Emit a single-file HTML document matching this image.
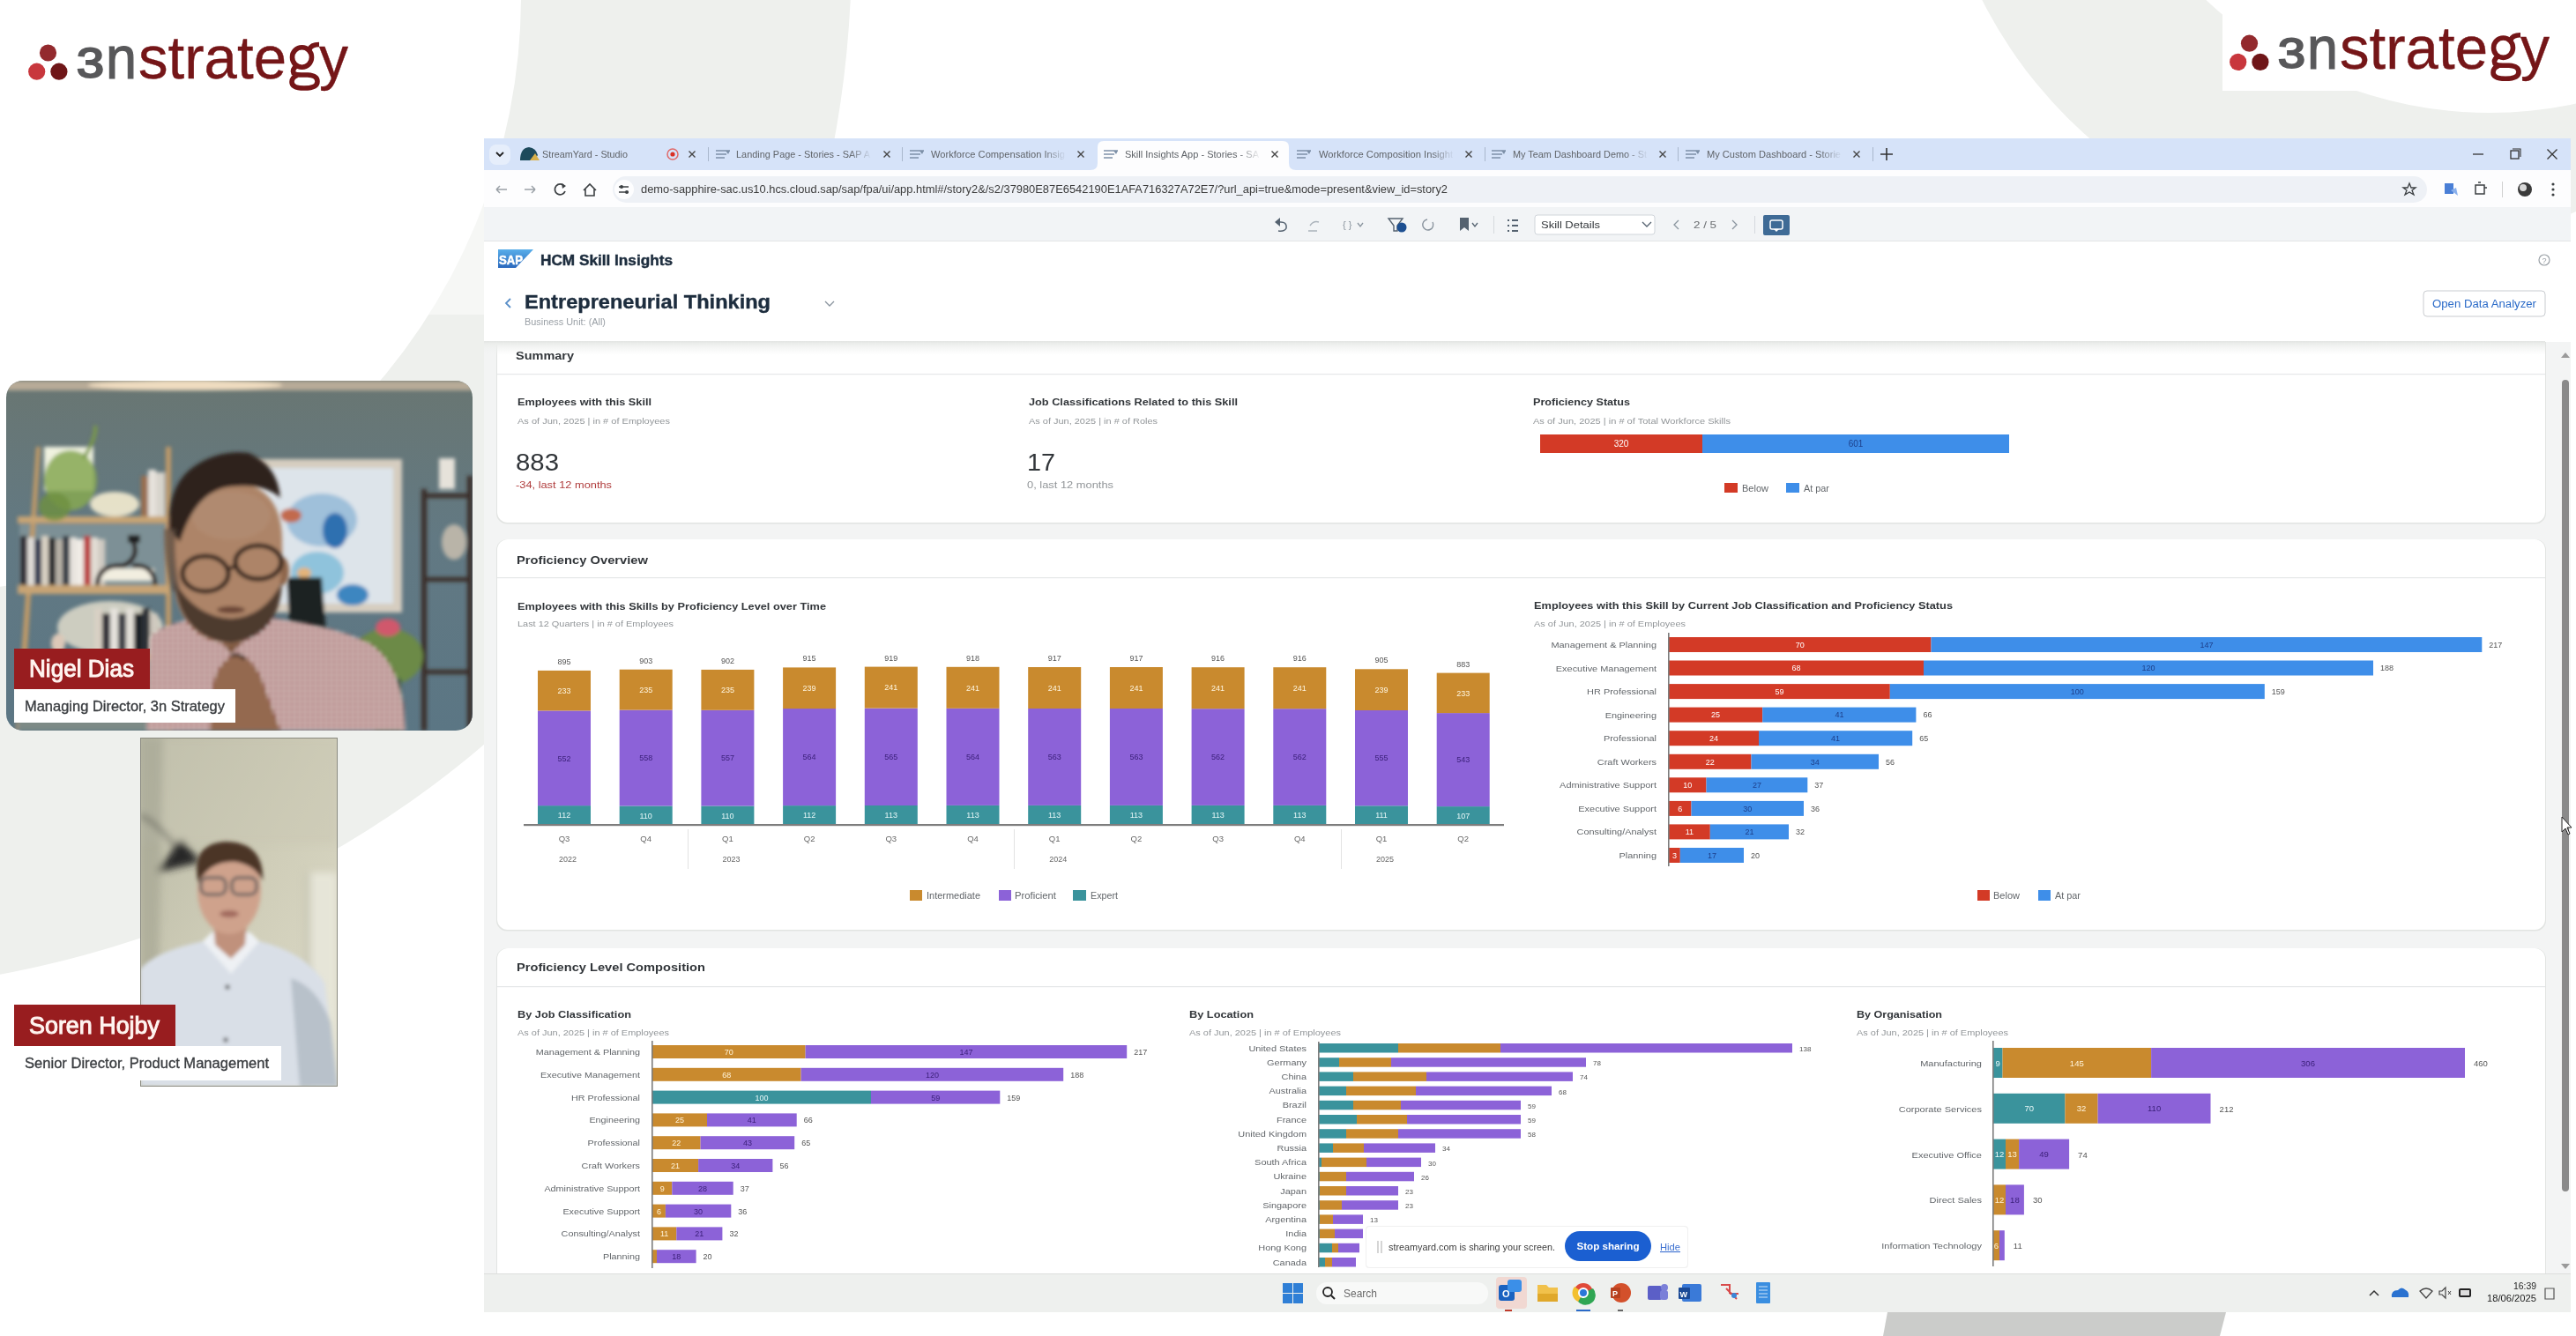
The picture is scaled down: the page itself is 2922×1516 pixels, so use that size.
<!DOCTYPE html>
<html><head><meta charset="utf-8"><title>3n Strategy - HCM Skill Insights</title>
<style>
html,body{margin:0;padding:0;background:#fff;overflow:hidden;}
body{width:2922px;height:1516px;}
svg{display:block;font-family:"Liberation Sans",sans-serif;filter:blur(0.6px);}
</style></head><body>
<svg width="2922" height="1516" viewBox="0 0 2922 1516">
<rect width="2922" height="1516" fill="#ffffff"/>
<path fill="#eef0ed" fill-rule="evenodd" d="M 966 -56 A 1181 1181 0 1 0 -1396 -56 A 1181 1181 0 1 0 966 -56 Z M 591 -4 A 675 675 0 1 0 -759 -4 A 675 675 0 1 0 591 -4 Z"/>
<rect x="0" y="0" width="549" height="357" fill="#ffffff" opacity="0.45"/>
<path fill="#eef0ed" fill-rule="evenodd" d="M 3229 -233 A 518 518 0 1 0 2193 -233 A 518 518 0 1 0 3229 -233 Z M 3292 -340 A 468 468 0 1 0 2356 -340 A 468 468 0 1 0 3292 -340 Z"/>
<rect x="2521" y="16" width="384" height="87" fill="#ffffff"/>
<path d="M2141 1489 L2525 1489 L2518 1516 L2136 1516 Z" fill="#cbccca"/>
<circle cx="54.5" cy="60" r="9.6" fill="#932a2e"/>
<circle cx="41.7" cy="81.2" r="9.6" fill="#c8373d"/>
<circle cx="66.9" cy="81.2" r="9.6" fill="#6f1618"/>
<text x="87.0" y="87.7" font-size="49" fill="#58585a" text-anchor="start" textLength="31.0" lengthAdjust="spacingAndGlyphs" stroke="#58585a" stroke-width="2.2">3</text>
<text x="120.0" y="88.7" font-size="68" fill="#58585a" text-anchor="start" textLength="35.0" lengthAdjust="spacingAndGlyphs" stroke="#58585a" stroke-width="1.2">n</text>
<text x="157.0" y="88.7" font-size="68" fill="#751618" text-anchor="start" textLength="168.0" lengthAdjust="spacingAndGlyphs" stroke="#751618" stroke-width="0.4">strate</text>
<text x="362.0" y="88.7" font-size="68" fill="#751618" text-anchor="start" textLength="33.0" lengthAdjust="spacingAndGlyphs" stroke="#751618" stroke-width="0.4">y</text>
<g fill="none" stroke="#751618" stroke-width="5.6" transform="translate(0,0)"><ellipse cx="342.5" cy="65" rx="11" ry="11.2"/><path d="M351 56 Q353 50.5 362 50.5"/><path d="M336 75 Q331 79 333 83 Q335 85 342 85 L349 85 Q360 85.5 360 92.5 Q360 100 345 100 Q331 100 331 93 Q331 88 337 85.5"/></g>
<circle cx="2551.5" cy="49.2" r="9.6" fill="#932a2e"/>
<circle cx="2538.7" cy="70.4" r="9.6" fill="#c8373d"/>
<circle cx="2563.9" cy="70.4" r="9.6" fill="#6f1618"/>
<text x="2584.0" y="76.9" font-size="49" fill="#58585a" text-anchor="start" textLength="31.0" lengthAdjust="spacingAndGlyphs" stroke="#58585a" stroke-width="2.2">3</text>
<text x="2617.0" y="77.9" font-size="68" fill="#58585a" text-anchor="start" textLength="35.0" lengthAdjust="spacingAndGlyphs" stroke="#58585a" stroke-width="1.2">n</text>
<text x="2654.0" y="77.9" font-size="68" fill="#751618" text-anchor="start" textLength="168.0" lengthAdjust="spacingAndGlyphs" stroke="#751618" stroke-width="0.4">strate</text>
<text x="2859.0" y="77.9" font-size="68" fill="#751618" text-anchor="start" textLength="33.0" lengthAdjust="spacingAndGlyphs" stroke="#751618" stroke-width="0.4">y</text>
<g fill="none" stroke="#751618" stroke-width="5.6" transform="translate(2497,-10.8)"><ellipse cx="342.5" cy="65" rx="11" ry="11.2"/><path d="M351 56 Q353 50.5 362 50.5"/><path d="M336 75 Q331 79 333 83 Q335 85 342 85 L349 85 Q360 85.5 360 92.5 Q360 100 345 100 Q331 100 331 93 Q331 88 337 85.5"/></g>
<defs>
<filter id="bl2" x="-20%" y="-20%" width="140%" height="140%"><feGaussianBlur stdDeviation="2"/></filter>
<filter id="bl4" x="-30%" y="-30%" width="160%" height="160%"><feGaussianBlur stdDeviation="4"/></filter>
<filter id="bl8" x="-30%" y="-30%" width="160%" height="160%"><feGaussianBlur stdDeviation="8"/></filter>
<clipPath id="clipN"><rect x="7" y="432" width="529" height="397" rx="19"/></clipPath>
<clipPath id="clipS"><rect x="159" y="837" width="224" height="396"/></clipPath>
<pattern id="check" width="6" height="6" patternUnits="userSpaceOnUse"><rect width="6" height="6" fill="#eee6e2"/><rect width="2" height="6" fill="#8e3a3e" opacity="0.85"/><rect width="6" height="2" fill="#8e3a3e" opacity="0.7"/></pattern>
<linearGradient id="wallN" x1="0" y1="0" x2="0" y2="1"><stop offset="0" stop-color="#697672"/><stop offset="0.45" stop-color="#627983"/><stop offset="1" stop-color="#5b7684"/></linearGradient>
<linearGradient id="wallS" x1="0" y1="0" x2="1" y2="1"><stop offset="0" stop-color="#b8b8a4"/><stop offset="0.5" stop-color="#cfcdb8"/><stop offset="1" stop-color="#dedcc9"/></linearGradient>
</defs>
<g clip-path="url(#clipN)">
<rect x="7.0" y="432.0" width="529.0" height="397.0" rx="0" fill="url(#wallN)" />
<g filter="url(#bl2)">
<rect x="7" y="432" width="529" height="11" fill="#b8ab98"/>
<ellipse cx="210" cy="437" rx="110" ry="6" fill="#efdcc0"/>
<rect x="22" y="595" width="168" height="70" fill="#8fa0a4" opacity="0.6"/>
<ellipse cx="125" cy="712" rx="60" ry="30" fill="#e8e2d0" opacity="0.8"/>
<ellipse cx="130" cy="572" rx="28" ry="14" fill="#f4ecd0" opacity="0.9"/>
<path d="M41 507 L46 507 L25 829 L18 829 Z" fill="#c09a68"/>
<rect x="188.0" y="507.0" width="6.0" height="322.0" rx="0" fill="#c09a68" />
<rect x="20.0" y="586.0" width="170.0" height="8.0" rx="0" fill="#c8a474" />
<rect x="20.0" y="664.0" width="172.0" height="10.0" rx="0" fill="#c8a474" />
<rect x="20.0" y="742.0" width="172.0" height="7.0" rx="0" fill="#c0a070" />
<rect x="50.0" y="507.0" width="56.0" height="50.0" rx="0" fill="#f0f2e0" />
<ellipse cx="80" cy="545" rx="30" ry="34" fill="#86a852" opacity="0.85"/>
<ellipse cx="62" cy="575" rx="18" ry="16" fill="#6e9040" opacity="0.8"/>
<path d="M95 520 Q110 495 108 483" stroke="#7a9a48" stroke-width="4" fill="none"/>
<rect x="160.0" y="540.0" width="8.0" height="46.0" rx="0" fill="#9a6e50" />
<rect x="168.0" y="533.0" width="9.0" height="53.0" rx="0" fill="#e6e2dc" />
<rect x="177.0" y="536.0" width="10.0" height="50.0" rx="0" fill="#d8d4cc" />
<rect x="23.0" y="608.0" width="8.0" height="56.0" rx="0" fill="#2a2c33" />
<rect x="31.0" y="610.0" width="8.0" height="54.0" rx="0" fill="#e0ddd8" />
<rect x="39.0" y="612.0" width="8.0" height="52.0" rx="0" fill="#2b3550" />
<rect x="47.0" y="608.0" width="8.0" height="56.0" rx="0" fill="#d9d2c4" />
<rect x="55.0" y="610.0" width="8.0" height="54.0" rx="0" fill="#1f2128" />
<rect x="63.0" y="612.0" width="8.0" height="52.0" rx="0" fill="#b8b2a8" />
<rect x="71.0" y="608.0" width="8.0" height="56.0" rx="0" fill="#2e3440" />
<rect x="79.0" y="610.0" width="8.0" height="54.0" rx="0" fill="#e8e4de" />
<rect x="87.0" y="612.0" width="8.0" height="52.0" rx="0" fill="#f0ece6" />
<rect x="95.0" y="608.0" width="8.0" height="56.0" rx="0" fill="#b93a3a" />
<rect x="103.0" y="610.0" width="8.0" height="54.0" rx="0" fill="#e2ddd4" />
<rect x="111.0" y="612.0" width="8.0" height="52.0" rx="0" fill="#d0cbc2" />
<rect x="115.0" y="645.0" width="60.0" height="14.0" rx="0" fill="#f2eee0" />
<path d="M110 664 Q112 640 140 642 Q160 632 150 612 M150 642 Q175 640 176 664" stroke="#2a2422" stroke-width="5" fill="none"/>
<rect x="145" y="607" width="14" height="9" fill="#1e1e1e"/>
<rect x="107.0" y="690.0" width="9.0" height="52.0" rx="0" fill="#d8d0c4" />
<rect x="116.0" y="696.0" width="9.0" height="46.0" rx="0" fill="#2a2c33" />
<rect x="125.0" y="690.0" width="9.0" height="52.0" rx="0" fill="#e6e3dd" />
<rect x="134.0" y="696.0" width="9.0" height="46.0" rx="0" fill="#3a3d44" />
<rect x="143.0" y="690.0" width="9.0" height="52.0" rx="0" fill="#e3e0d8" />
<rect x="152.0" y="696.0" width="9.0" height="46.0" rx="0" fill="#1e2026" />
<rect x="161.0" y="690.0" width="9.0" height="52.0" rx="0" fill="#2e3138" />
<rect x="170.0" y="696.0" width="9.0" height="46.0" rx="0" fill="#cfc9be" />
<ellipse cx="66" cy="730" rx="8" ry="11" fill="#dcc8b8"/>
<rect x="20.0" y="749.0" width="172.0" height="80.0" rx="0" fill="#7d8a86" />
<rect x="270.0" y="521.0" width="186.0" height="174.0" rx="0" fill="#d6cdc0" />
<rect x="280.0" y="531.0" width="166.0" height="154.0" rx="0" fill="#dde4ea" />
<ellipse cx="365" cy="590" rx="40" ry="30" fill="#9fc0da"/>
<ellipse cx="380" cy="602" rx="14" ry="20" fill="#2f6fb0"/>
<ellipse cx="330" cy="585" rx="12" ry="8" fill="#c26a4e"/>
<ellipse cx="360" cy="650" rx="30" ry="24" fill="#8fc3dc"/>
<ellipse cx="400" cy="675" rx="18" ry="12" fill="#3d86c0"/>
<ellipse cx="345" cy="650" rx="8" ry="6" fill="#e3b47a"/>
<rect x="478.0" y="555.0" width="6.0" height="274.0" rx="0" fill="#3a2e2a" />
<rect x="530.0" y="540.0" width="6.0" height="289.0" rx="0" fill="#3a2e2a" />
<rect x="478.0" y="560.0" width="58.0" height="5.0" rx="0" fill="#3a2e2a" />
<rect x="478.0" y="655.0" width="58.0" height="5.0" rx="0" fill="#3a2e2a" />
<rect x="478.0" y="760.0" width="58.0" height="5.0" rx="0" fill="#3a2e2a" />
<ellipse cx="515" cy="615" rx="14" ry="20" fill="#b9b4a8"/>
<rect x="498.0" y="520.0" width="18.0" height="35.0" rx="0" fill="#e6e2da" />
<ellipse cx="440" cy="745" rx="40" ry="32" fill="#6c8a46"/>
<ellipse cx="440" cy="712" rx="14" ry="10" fill="#d0586c"/>
<rect x="425.0" y="770.0" width="30.0" height="59.0" rx="0" fill="#3b5a4a" />
<path d="M325 655 L365 655 L370 720 L330 740 Z" fill="#1f2022"/>
</g>
<g filter="url(#bl2)">
<path d="M166 829 L170 725 Q178 708 232 700 L262 728 L292 700 Q370 706 420 730 Q450 750 458 800 L460 829 Z" fill="url(#check)"/>
<path d="M166 829 L170 725 Q178 708 232 700 L262 728 L292 700 Q370 706 420 730 Q450 750 458 800 L460 829 Z" fill="#b27676" opacity="0.15"/>
<path d="M232 700 L262 745 L292 700 L285 690 L240 690 Z" fill="#e8dcd6" opacity="0.6"/>
<path d="M232 690 L296 690 L292 712 L262 742 L236 712 Z" fill="#80583f"/>
<ellipse cx="320" cy="648" rx="8" ry="16" fill="#8e664c"/>
<path d="M190 600 Q190 548 252 545 Q318 545 320 610 Q322 680 300 712 Q275 735 250 730 Q212 722 200 680 Z" fill="#ad8468"/>
<ellipse cx="262" cy="585" rx="45" ry="28" fill="#b08a70"/>
<path d="M198 660 Q205 725 262 730 Q318 722 320 660 Q300 700 262 702 Q222 700 198 660 Z" fill="#4e3a2e"/>
<ellipse cx="262" cy="692" rx="16" ry="4" fill="#6a4434"/>
<path d="M192 600 Q190 548 222 528 Q250 510 282 514 Q315 528 318 565 Q300 548 262 552 Q222 556 204 615 Z" fill="#2e241d"/>
<path d="M186 600 Q186 640 196 672 L204 668 Q196 630 200 600 Z" fill="#5a4a40" opacity="0.7"/>
<ellipse cx="233" cy="651" rx="26" ry="20" fill="none" stroke="#2a1d16" stroke-width="5"/>
<ellipse cx="293" cy="638" rx="26" ry="19" fill="none" stroke="#2a1d16" stroke-width="5"/>
<path d="M258 646 L268 642" stroke="#2a1d16" stroke-width="4"/>
<path d="M238 829 L242 775 Q250 745 272 742 Q292 752 300 780 L318 829 Z" fill="#94694f"/>
<path d="M262 745 Q268 740 278 748" stroke="#4a3325" stroke-width="4" fill="none"/>
</g>
</g>
<rect x="16.0" y="736.0" width="154.0" height="46.0" rx="0" fill="#981d1f" />
<text x="33.0" y="768.0" font-size="27" fill="#fff4f0" text-anchor="start" textLength="119.0" lengthAdjust="spacingAndGlyphs" stroke="#fff4f0" stroke-width="1">Nigel Dias</text>
<rect x="16.0" y="782.0" width="251.0" height="38.0" rx="0" fill="#ffffff" />
<text x="28.0" y="807.0" font-size="17" fill="#3a3d40" text-anchor="start" textLength="227.0" lengthAdjust="spacingAndGlyphs" stroke="#3a3d40" stroke-width="0.35">Managing Director, 3n Strategy</text>
<g clip-path="url(#clipS)">
<rect x="159.0" y="837.0" width="224.0" height="396.0" rx="0" fill="url(#wallS)" />
<g filter="url(#bl4)">
<rect x="159" y="837" width="224" height="120" fill="#c9c8b4" opacity="0.5"/>
<path d="M159 837 L185 837 L178 1233 L159 1233 Z" fill="#a2a290" opacity="0.6"/>
<rect x="352.0" y="990.0" width="31.0" height="243.0" rx="0" fill="#e6e5d8" />
<rect x="346.0" y="990.0" width="6.0" height="243.0" rx="0" fill="#c6c5b2" />
<path d="M159 925 Q180 935 200 962" stroke="#2e2e2e" stroke-width="3" fill="none"/>
<path d="M178 990 L205 952 L228 978 Z" fill="#262626"/>
</g>
<g filter="url(#bl2)">
<path d="M159 1233 L159 1100 Q175 1080 230 1068 L262 1082 L294 1068 Q345 1080 368 1115 L383 1233 Z" fill="#d9dfe7"/>
<path d="M330 1110 Q360 1120 375 1160 L383 1233 L340 1233 Z" fill="#aab3bd" opacity="0.7"/>
<path d="M230 1068 L262 1105 L294 1068 L284 1058 L240 1058 Z" fill="#eef1f4"/>
<circle cx="258" cy="1120" r="2.5" fill="#333"/><circle cx="256" cy="1180" r="2.5" fill="#333"/>
<path d="M242 1045 L280 1045 L278 1072 L262 1088 L244 1072 Z" fill="#c0917c"/>
<ellipse cx="260" cy="1010" rx="36" ry="50" fill="#cfa28c"/>
<path d="M225 1002 Q215 958 255 955 Q300 955 298 1000 Q290 982 268 978 Q238 976 225 1002 Z" fill="#4c3626"/>
<rect x="228" y="996" width="28" height="19" rx="7" fill="none" stroke="#5a5a5a" stroke-width="3"/>
<rect x="263" y="996" width="28" height="19" rx="7" fill="none" stroke="#5a5a5a" stroke-width="3"/>
<ellipse cx="260" cy="1037" rx="11" ry="4" fill="#a26a5e"/>
</g>
</g>
<rect x="159.5" y="837.5" width="223" height="395" fill="none" stroke="#8a8a80" stroke-width="1"/>
<rect x="16.0" y="1140.0" width="183.0" height="47.0" rx="0" fill="#981d1f" />
<text x="33.0" y="1173.0" font-size="27" fill="#fff4f0" text-anchor="start" textLength="148.0" lengthAdjust="spacingAndGlyphs" stroke="#fff4f0" stroke-width="1">Soren Hojby</text>
<rect x="16.0" y="1187.0" width="303.0" height="39.0" rx="0" fill="#ffffff" />
<text x="28.0" y="1212.0" font-size="17" fill="#3a3d40" text-anchor="start" textLength="277.0" lengthAdjust="spacingAndGlyphs" stroke="#3a3d40" stroke-width="0.35">Senior Director, Product Management</text>
<rect x="549.0" y="157.0" width="2367.0" height="1332.0" rx="0" fill="#f3f4f4" />
<rect x="549.0" y="157.0" width="2367.0" height="36.0" rx="0" fill="#d6e3f9" />
<defs><linearGradient id="fadeT" x1="0" x2="1"><stop offset="0" stop-color="#d6e3f9" stop-opacity="0"/><stop offset="1" stop-color="#d6e3f9"/></linearGradient><linearGradient id="fadeA" x1="0" x2="1"><stop offset="0" stop-color="#fdfdfe" stop-opacity="0"/><stop offset="1" stop-color="#fdfdfe"/></linearGradient></defs>
<path d="M1237 193 Q1245 193 1245 185 L1245 167 Q1245 160 1252 160 L1455 160 Q1462 160 1462 167 L1462 185 Q1462 193 1470 193 Z" fill="#fdfdfe"/>
<rect x="555.0" y="164.0" width="24.0" height="23.0" rx="8" fill="#e6eefb" />
<path d="M563 173 L567 177 L571 173" stroke="#1f1f1f" stroke-width="1.8" fill="none"/>
<path d="M590 182 Q590 168 600 167 Q608 168 610 176 L606 182 Z" fill="#1d4a5c"/>
<path d="M601 182 L607 174 L612 182 Z" fill="#d8b04a"/>
<text x="615.0" y="179.0" font-size="11" fill="#5f6368" text-anchor="start" textLength="97.0" lengthAdjust="spacingAndGlyphs" >StreamYard - Studio</text>
<circle cx="763" cy="175" r="6" fill="none" stroke="#e06a6a" stroke-width="1.5"/><circle cx="763" cy="175" r="2.6" fill="#d93025"/>
<path d="M781.5 171.5 L788.5 178.5 M788.5 171.5 L781.5 178.5" stroke="#444" stroke-width="1.4"/>
<rect x="803" y="167" width="1" height="16" fill="#a9b7cc"/>
<path d="M812 171 L828 171 M812 175 L824 175 M812 179 L822 179" stroke="#7d90a8" stroke-width="1.4"/>
<path d="M823 171 L828 171 L826 175 Z" fill="#7d90a8"/>
<text x="835.0" y="179.0" font-size="11" fill="#5f6368" text-anchor="start" textLength="152.0" lengthAdjust="spacingAndGlyphs" >Landing Page - Stories - SAP A</text>
<rect x="963" y="168" width="26" height="16" fill="url(#fadeT)"/>
<path d="M1002.5 171.5 L1009.5 178.5 M1009.5 171.5 L1002.5 178.5" stroke="#444" stroke-width="1.4"/>
<rect x="1023" y="167" width="1" height="16" fill="#a9b7cc"/>
<path d="M1032 171 L1048 171 M1032 175 L1044 175 M1032 179 L1042 179" stroke="#7d90a8" stroke-width="1.4"/>
<path d="M1043 171 L1048 171 L1046 175 Z" fill="#7d90a8"/>
<text x="1056.0" y="179.0" font-size="11" fill="#5f6368" text-anchor="start" textLength="152.0" lengthAdjust="spacingAndGlyphs" >Workforce Compensation Insig</text>
<rect x="1184" y="168" width="26" height="16" fill="url(#fadeT)"/>
<path d="M1222.5 171.5 L1229.5 178.5 M1229.5 171.5 L1222.5 178.5" stroke="#444" stroke-width="1.4"/>
<path d="M1252 171 L1268 171 M1252 175 L1264 175 M1252 179 L1262 179" stroke="#7d90a8" stroke-width="1.4"/>
<path d="M1263 171 L1268 171 L1266 175 Z" fill="#7d90a8"/>
<text x="1276.0" y="179.0" font-size="11" fill="#5f6368" text-anchor="start" textLength="152.0" lengthAdjust="spacingAndGlyphs" >Skill Insights App - Stories - SA</text>
<rect x="1404" y="168" width="26" height="16" fill="url(#fadeA)"/>
<path d="M1442.5 171.5 L1449.5 178.5 M1449.5 171.5 L1442.5 178.5" stroke="#444" stroke-width="1.4"/>
<path d="M1471 171 L1487 171 M1471 175 L1483 175 M1471 179 L1481 179" stroke="#7d90a8" stroke-width="1.4"/>
<path d="M1482 171 L1487 171 L1485 175 Z" fill="#7d90a8"/>
<text x="1496.0" y="179.0" font-size="11" fill="#5f6368" text-anchor="start" textLength="152.0" lengthAdjust="spacingAndGlyphs" >Workforce Composition Insight</text>
<rect x="1624" y="168" width="26" height="16" fill="url(#fadeT)"/>
<path d="M1662.5 171.5 L1669.5 178.5 M1669.5 171.5 L1662.5 178.5" stroke="#444" stroke-width="1.4"/>
<rect x="1684" y="167" width="1" height="16" fill="#a9b7cc"/>
<path d="M1692 171 L1708 171 M1692 175 L1704 175 M1692 179 L1702 179" stroke="#7d90a8" stroke-width="1.4"/>
<path d="M1703 171 L1708 171 L1706 175 Z" fill="#7d90a8"/>
<text x="1716.0" y="179.0" font-size="11" fill="#5f6368" text-anchor="start" textLength="152.0" lengthAdjust="spacingAndGlyphs" >My Team Dashboard Demo - St</text>
<rect x="1844" y="168" width="26" height="16" fill="url(#fadeT)"/>
<path d="M1882.5 171.5 L1889.5 178.5 M1889.5 171.5 L1882.5 178.5" stroke="#444" stroke-width="1.4"/>
<rect x="1903" y="167" width="1" height="16" fill="#a9b7cc"/>
<path d="M1912 171 L1928 171 M1912 175 L1924 175 M1912 179 L1922 179" stroke="#7d90a8" stroke-width="1.4"/>
<path d="M1923 171 L1928 171 L1926 175 Z" fill="#7d90a8"/>
<text x="1936.0" y="179.0" font-size="11" fill="#5f6368" text-anchor="start" textLength="152.0" lengthAdjust="spacingAndGlyphs" >My Custom Dashboard - Storie</text>
<rect x="2064" y="168" width="26" height="16" fill="url(#fadeT)"/>
<path d="M2102.5 171.5 L2109.5 178.5 M2109.5 171.5 L2102.5 178.5" stroke="#444" stroke-width="1.4"/>
<rect x="2124" y="167" width="1" height="16" fill="#a9b7cc"/>
<path d="M2133 175 L2147 175 M2140 168 L2140 182" stroke="#333" stroke-width="1.6"/>
<path d="M2805 175 L2817 175" stroke="#333" stroke-width="1.3"/>
<rect x="2848" y="171" width="9" height="9" fill="none" stroke="#333" stroke-width="1.3"/><path d="M2850 169 L2859 169 L2859 178" stroke="#333" stroke-width="1.1" fill="none"/>
<path d="M2889.5 169.5 L2900.5 180.5 M2900.5 169.5 L2889.5 180.5" stroke="#333" stroke-width="1.3"/>
<rect x="549.0" y="193.0" width="2367.0" height="42.0" rx="0" fill="#fdfdfe" />
<path d="M563 215 L575 215 M563 215 L567 211 M563 215 L567 219" stroke="#9aa0a6" stroke-width="1.5" fill="none"/>
<path d="M607 215 L595 215 M607 215 L603 211 M607 215 L603 219" stroke="#9aa0a6" stroke-width="1.5" fill="none"/>
<path d="M640 211 A6 6 0 1 0 641 217" stroke="#3c4043" stroke-width="1.8" fill="none"/><path d="M637 208 L642 211 L638 214" fill="#3c4043"/>
<path d="M662 216 L669 209 L676 216 M664 214 L664 222 L674 222 L674 214" stroke="#3c4043" stroke-width="1.6" fill="none"/>
<rect x="695.0" y="200.0" width="2058.0" height="30.0" rx="15" fill="#eef1f6" />
<circle cx="708" cy="215" r="11" fill="#fdfdfe"/>
<path d="M702 212 L713 212 M702 218 L713 218" stroke="#3c4043" stroke-width="1.5"/><circle cx="705" cy="212" r="2" fill="#3c4043"/><circle cx="711" cy="218" r="2" fill="#3c4043"/>
<text x="727.0" y="219.0" font-size="12.5" fill="#3c3c3c" text-anchor="start" textLength="915.0" lengthAdjust="spacingAndGlyphs" >demo-sapphire-sac.us10.hcs.cloud.sap/sap/fpa/ui/app.html#/story2&amp;/s2/37980E87E6542190E1AFA716327A72E7/?url_api=true&amp;mode=present&amp;view_id=story2</text>
<path d="M2733 208 L2735 213 L2740 213 L2736 216 L2738 221 L2733 218 L2728 221 L2730 216 L2726 213 L2731 213 Z" stroke="#3c4043" stroke-width="1.3" fill="none"/>
<rect x="2773" y="208" width="10" height="12" fill="#4a7fd6"/><path d="M2780 216 L2788 222 L2786 213 Z" fill="#8ab0ec"/>
<path d="M2808 210 L2818 210 L2818 220 L2808 220 Z M2811 207 L2814 207 M2818 213 L2821 213" stroke="#3c4043" stroke-width="1.5" fill="none"/>
<rect x="2838.0" y="206.0" width="1.0" height="18.0" rx="0" fill="#d0d0d0" />
<circle cx="2864" cy="215" r="8" fill="#3a3a3a"/><circle cx="2862" cy="213" r="4" fill="#d8d8d8"/>
<circle cx="2896" cy="209" r="1.6" fill="#3c4043"/><circle cx="2896" cy="215" r="1.6" fill="#3c4043"/><circle cx="2896" cy="221" r="1.6" fill="#3c4043"/>
<rect x="549.0" y="235.0" width="2367.0" height="39.0" rx="0" fill="#f2f4f6" />
<rect x="549.0" y="273.0" width="2367.0" height="1.0" rx="0" fill="#e2e4e6" />
<path d="M1446 252 L1452 247 L1452 257 Z" fill="#556270"/><path d="M1451 252 Q1460 251 1459 259 Q1457 263 1450 262" stroke="#556270" stroke-width="1.5" fill="none"/>
<path d="M1484 262 L1494 262 M1486 256 Q1490 250 1496 252" stroke="#aab2ba" stroke-width="1.4" fill="none"/>
<text x="1523.0" y="259.0" font-size="11" fill="#8a949e" text-anchor="start" >{ }</text>
<path d="M1540 253 L1543 257 L1546 253" stroke="#8a949e" stroke-width="1.3" fill="none"/>
<path d="M1575 248 L1591 248 L1585 256 L1585 262 L1581 262 L1581 256 Z" stroke="#556270" stroke-width="1.4" fill="none"/><circle cx="1590" cy="258" r="5.5" fill="#1d4f91"/>
<path d="M1625 252 A6 6 0 1 1 1619 249" stroke="#8a949e" stroke-width="1.4" fill="none"/>
<path d="M1656 247 L1666 247 L1666 262 L1661 258 L1656 262 Z" fill="#556270"/><path d="M1670 253 L1673 257 L1676 253" stroke="#556270" stroke-width="1.3" fill="none"/>
<rect x="1694.0" y="245.0" width="1.0" height="20.0" rx="0" fill="#d5d9dd" />
<path d="M1711 249 L1711 251 M1711 255 L1711 257 M1711 261 L1711 263 M1715 250 L1722 250 M1715 256 L1722 256 M1715 262 L1722 262" stroke="#556270" stroke-width="2"/>
<rect x="1741.0" y="244.0" width="136.0" height="22.0" rx="3" fill="#ffffff" stroke="#d0d5da" stroke-width="1"/>
<text x="1748.0" y="259.0" font-size="11" fill="#32363a" text-anchor="start" textLength="67.0" lengthAdjust="spacingAndGlyphs" >Skill Details</text>
<path d="M1863 252 L1868 257 L1873 252" stroke="#556270" stroke-width="1.3" fill="none"/>
<path d="M1904 250 L1899 255 L1904 260" stroke="#8a949e" stroke-width="1.3" fill="none"/>
<text x="1921.0" y="259.0" font-size="11" fill="#6a6d70" text-anchor="start" textLength="26.0" lengthAdjust="spacingAndGlyphs" >2 / 5</text>
<path d="M1965 250 L1970 255 L1965 260" stroke="#8a949e" stroke-width="1.3" fill="none"/>
<rect x="1990.0" y="245.0" width="1.0" height="20.0" rx="0" fill="#d5d9dd" />
<rect x="2000.0" y="244.0" width="30.0" height="23.0" rx="2" fill="#3f6b96" />
<rect x="2008" y="250" width="14" height="10" rx="2" fill="none" stroke="#fff" stroke-width="1.5"/><path d="M2012 260 L2015 263 L2018 260" fill="#fff"/>
<path d="M2905 406 L2910 400 L2915 406 Z" fill="#9a9a9a"/>
<rect x="2906.0" y="431.0" width="8.0" height="921.0" rx="4" fill="#8a8a8a" />
<path d="M2905 1434 L2910 1440 L2915 1434 Z" fill="#9a9a9a"/>
<g>
<rect x="563" y="340" width="2325" height="254.5" rx="12" fill="#e2e4e2"/>
<rect x="564" y="340" width="2323" height="253" rx="12" fill="#ffffff"/>
</g>
<rect x="549.0" y="274.0" width="2367.0" height="114.0" rx="0" fill="#ffffff" />
<defs><linearGradient id="hsh" x1="0" y1="0" x2="0" y2="1"><stop offset="0" stop-color="#e3e5e3"/><stop offset="0.2" stop-color="#eceeec"/><stop offset="1" stop-color="#f3f4f4" stop-opacity="0"/></linearGradient></defs>
<rect x="549" y="387" width="2338" height="16" fill="url(#hsh)"/>
<text x="585.0" y="408.0" font-size="13.5" fill="#32363a" font-weight="bold" text-anchor="start" textLength="66.0" lengthAdjust="spacingAndGlyphs" >Summary</text>
<rect x="564.0" y="424.0" width="2323.0" height="1.2" rx="0" fill="#e5e7e8" />
<defs><linearGradient id="sapg" x1="0" y1="0" x2="0" y2="1"><stop offset="0" stop-color="#58aeea"/><stop offset="1" stop-color="#2a68bd"/></linearGradient></defs>
<path d="M565 283 L605 283 L585 304 L565 304 Z" fill="url(#sapg)"/>
<text x="566.0" y="300.0" font-size="15.5" fill="#ffffff" font-weight="bold" text-anchor="start" textLength="27.0" lengthAdjust="spacingAndGlyphs" stroke="#fff" stroke-width="0.6">SAP</text>
<text x="613.0" y="301.0" font-size="17" fill="#1d2d3e" font-weight="bold" text-anchor="start" textLength="150.0" lengthAdjust="spacingAndGlyphs" stroke="#1d2d3e" stroke-width="0.45">HCM Skill Insights</text>
<path d="M579 339 L574 344 L579 349" stroke="#5a8fc8" stroke-width="1.8" fill="none"/>
<text x="595.0" y="350.0" font-size="22" fill="#1d2d3e" font-weight="bold" text-anchor="start" textLength="279.0" lengthAdjust="spacingAndGlyphs" stroke="#1d2d3e" stroke-width="0.4">Entrepreneurial Thinking</text>
<path d="M936 342 L941 347 L946 342" stroke="#8a949e" stroke-width="1.3" fill="none"/>
<text x="595.0" y="369.0" font-size="10" fill="#9aa0a6" text-anchor="start" textLength="92.0" lengthAdjust="spacingAndGlyphs" >Business Unit: (All)</text>
<circle cx="2886" cy="295" r="6" fill="none" stroke="#9aa0a6" stroke-width="1.2"/><text x="2883.5" y="299" font-size="9" fill="#9aa0a6">?</text>
<rect x="2749.0" y="330.0" width="138.0" height="29.0" rx="4" fill="#ffffff" stroke="#c9ccd0" stroke-width="1"/>
<text x="2759.0" y="349.0" font-size="12" fill="#2a6ac8" text-anchor="start" textLength="118.0" lengthAdjust="spacingAndGlyphs" >Open Data Analyzer</text>
<text x="587.0" y="460.0" font-size="11.5" fill="#32363a" font-weight="bold" text-anchor="start" textLength="152.0" lengthAdjust="spacingAndGlyphs" >Employees with this Skill</text>
<text x="587.0" y="481.0" font-size="9.5" fill="#929699" text-anchor="start" textLength="173.0" lengthAdjust="spacingAndGlyphs" >As of Jun, 2025 | in # of Employees</text>
<text x="585.0" y="534.0" font-size="27" fill="#32363a" text-anchor="start" textLength="49.0" lengthAdjust="spacingAndGlyphs" >883</text>
<text x="585.0" y="554.0" font-size="11.5" fill="#b03d3d" text-anchor="start" textLength="109.0" lengthAdjust="spacingAndGlyphs" >-34, last 12 months</text>
<text x="1167.0" y="460.0" font-size="11.5" fill="#32363a" font-weight="bold" text-anchor="start" textLength="237.0" lengthAdjust="spacingAndGlyphs" >Job Classifications Related to this Skill</text>
<text x="1167.0" y="481.0" font-size="9.5" fill="#929699" text-anchor="start" textLength="146.0" lengthAdjust="spacingAndGlyphs" >As of Jun, 2025 | in # of Roles</text>
<text x="1165.0" y="534.0" font-size="27" fill="#32363a" text-anchor="start" textLength="32.0" lengthAdjust="spacingAndGlyphs" >17</text>
<text x="1165.0" y="554.0" font-size="11.5" fill="#929699" text-anchor="start" textLength="98.0" lengthAdjust="spacingAndGlyphs" >0, last 12 months</text>
<text x="1739.0" y="460.0" font-size="11.5" fill="#32363a" font-weight="bold" text-anchor="start" textLength="110.0" lengthAdjust="spacingAndGlyphs" >Proficiency Status</text>
<text x="1739.0" y="481.0" font-size="9.5" fill="#929699" text-anchor="start" textLength="224.0" lengthAdjust="spacingAndGlyphs" >As of Jun, 2025 | in # of Total Workforce Skills</text>
<rect x="1747.0" y="493.0" width="184.0" height="21.0" rx="0" fill="#d33a26" />
<rect x="1931.0" y="493.0" width="348.0" height="21.0" rx="0" fill="#3e8ee9" />
<text x="1839.0" y="507.0" font-size="10" fill="#ffffff" text-anchor="middle" >320</text>
<text x="2105.0" y="507.0" font-size="10" fill="#1d3f8a" text-anchor="middle" >601</text>
<rect x="1956.0" y="548.0" width="15.0" height="11.0" rx="0" fill="#d33a26" />
<text x="1976.0" y="558.0" font-size="10" fill="#62666a" text-anchor="start" textLength="30.0" lengthAdjust="spacingAndGlyphs" >Below</text>
<rect x="2026.0" y="548.0" width="15.0" height="11.0" rx="0" fill="#3e8ee9" />
<text x="2046.0" y="558.0" font-size="10" fill="#62666a" text-anchor="start" textLength="29.0" lengthAdjust="spacingAndGlyphs" >At par</text>
<rect x="563" y="612" width="2325" height="444.5" rx="12" fill="#e2e4e2"/>
<rect x="564" y="612" width="2323" height="443" rx="12" fill="#ffffff"/>
<text x="586.0" y="640.0" font-size="13.5" fill="#32363a" font-weight="bold" text-anchor="start" textLength="149.0" lengthAdjust="spacingAndGlyphs" >Proficiency Overview</text>
<rect x="564.0" y="655.0" width="2323.0" height="1.2" rx="0" fill="#e5e7e8" />
<text x="587.0" y="692.0" font-size="11.5" fill="#32363a" font-weight="bold" text-anchor="start" textLength="350.0" lengthAdjust="spacingAndGlyphs" >Employees with this Skills by Proficiency Level over Time</text>
<text x="587.0" y="711.0" font-size="9.5" fill="#929699" text-anchor="start" textLength="177.0" lengthAdjust="spacingAndGlyphs" >Last 12 Quarters | in # of Employees</text>
<rect x="610.0" y="914.1" width="60.0" height="21.9" rx="0" fill="#3a939c" />
<rect x="610.0" y="806.4" width="60.0" height="107.8" rx="0" fill="#8c62d8" />
<rect x="610.0" y="760.9" width="60.0" height="45.5" rx="0" fill="#c98a2e" />
<text x="640.0" y="928.3" font-size="9" fill="#e8f8f8" text-anchor="middle" >112</text>
<text x="640.0" y="863.5" font-size="9" fill="#3a1f78" text-anchor="middle" >552</text>
<text x="640.0" y="786.8" font-size="9" fill="#fff6e0" text-anchor="middle" >233</text>
<text x="640.0" y="753.9" font-size="9" fill="#555" text-anchor="middle" >895</text>
<text x="640.0" y="955.0" font-size="9.5" fill="#666" text-anchor="middle" >Q3</text>
<rect x="702.7" y="914.5" width="60.0" height="21.5" rx="0" fill="#3a939c" />
<rect x="702.7" y="805.6" width="60.0" height="108.9" rx="0" fill="#8c62d8" />
<rect x="702.7" y="759.7" width="60.0" height="45.9" rx="0" fill="#c98a2e" />
<text x="732.7" y="928.5" font-size="9" fill="#e8f8f8" text-anchor="middle" >110</text>
<text x="732.7" y="863.3" font-size="9" fill="#3a1f78" text-anchor="middle" >558</text>
<text x="732.7" y="785.9" font-size="9" fill="#fff6e0" text-anchor="middle" >235</text>
<text x="732.7" y="752.7" font-size="9" fill="#555" text-anchor="middle" >903</text>
<text x="732.7" y="955.0" font-size="9.5" fill="#666" text-anchor="middle" >Q4</text>
<rect x="795.4" y="914.5" width="60.0" height="21.5" rx="0" fill="#3a939c" />
<rect x="795.4" y="805.8" width="60.0" height="108.7" rx="0" fill="#8c62d8" />
<rect x="795.4" y="759.9" width="60.0" height="45.9" rx="0" fill="#c98a2e" />
<text x="825.4" y="928.5" font-size="9" fill="#e8f8f8" text-anchor="middle" >110</text>
<text x="825.4" y="863.4" font-size="9" fill="#3a1f78" text-anchor="middle" >557</text>
<text x="825.4" y="786.1" font-size="9" fill="#fff6e0" text-anchor="middle" >235</text>
<text x="825.4" y="752.9" font-size="9" fill="#555" text-anchor="middle" >902</text>
<text x="825.4" y="955.0" font-size="9.5" fill="#666" text-anchor="middle" >Q1</text>
<rect x="888.1" y="914.1" width="60.0" height="21.9" rx="0" fill="#3a939c" />
<rect x="888.1" y="804.0" width="60.0" height="110.1" rx="0" fill="#8c62d8" />
<rect x="888.1" y="757.4" width="60.0" height="46.7" rx="0" fill="#c98a2e" />
<text x="918.1" y="928.3" font-size="9" fill="#e8f8f8" text-anchor="middle" >112</text>
<text x="918.1" y="862.3" font-size="9" fill="#3a1f78" text-anchor="middle" >564</text>
<text x="918.1" y="783.9" font-size="9" fill="#fff6e0" text-anchor="middle" >239</text>
<text x="918.1" y="750.4" font-size="9" fill="#555" text-anchor="middle" >915</text>
<text x="918.1" y="955.0" font-size="9.5" fill="#666" text-anchor="middle" >Q2</text>
<rect x="980.8" y="913.9" width="60.0" height="22.1" rx="0" fill="#3a939c" />
<rect x="980.8" y="803.7" width="60.0" height="110.3" rx="0" fill="#8c62d8" />
<rect x="980.8" y="756.6" width="60.0" height="47.0" rx="0" fill="#c98a2e" />
<text x="1010.8" y="928.2" font-size="9" fill="#e8f8f8" text-anchor="middle" >113</text>
<text x="1010.8" y="862.0" font-size="9" fill="#3a1f78" text-anchor="middle" >565</text>
<text x="1010.8" y="783.3" font-size="9" fill="#fff6e0" text-anchor="middle" >241</text>
<text x="1010.8" y="749.6" font-size="9" fill="#555" text-anchor="middle" >919</text>
<text x="1010.8" y="955.0" font-size="9.5" fill="#666" text-anchor="middle" >Q3</text>
<rect x="1073.5" y="913.9" width="60.0" height="22.1" rx="0" fill="#3a939c" />
<rect x="1073.5" y="803.8" width="60.0" height="110.1" rx="0" fill="#8c62d8" />
<rect x="1073.5" y="756.8" width="60.0" height="47.0" rx="0" fill="#c98a2e" />
<text x="1103.5" y="928.2" font-size="9" fill="#e8f8f8" text-anchor="middle" >113</text>
<text x="1103.5" y="862.1" font-size="9" fill="#3a1f78" text-anchor="middle" >564</text>
<text x="1103.5" y="783.5" font-size="9" fill="#fff6e0" text-anchor="middle" >241</text>
<text x="1103.5" y="749.8" font-size="9" fill="#555" text-anchor="middle" >918</text>
<text x="1103.5" y="955.0" font-size="9.5" fill="#666" text-anchor="middle" >Q4</text>
<rect x="1166.2" y="913.9" width="60.0" height="22.1" rx="0" fill="#3a939c" />
<rect x="1166.2" y="804.0" width="60.0" height="109.9" rx="0" fill="#8c62d8" />
<rect x="1166.2" y="757.0" width="60.0" height="47.0" rx="0" fill="#c98a2e" />
<text x="1196.2" y="928.2" font-size="9" fill="#e8f8f8" text-anchor="middle" >113</text>
<text x="1196.2" y="862.2" font-size="9" fill="#3a1f78" text-anchor="middle" >563</text>
<text x="1196.2" y="783.7" font-size="9" fill="#fff6e0" text-anchor="middle" >241</text>
<text x="1196.2" y="750.0" font-size="9" fill="#555" text-anchor="middle" >917</text>
<text x="1196.2" y="955.0" font-size="9.5" fill="#666" text-anchor="middle" >Q1</text>
<rect x="1258.9" y="913.9" width="60.0" height="22.1" rx="0" fill="#3a939c" />
<rect x="1258.9" y="804.0" width="60.0" height="109.9" rx="0" fill="#8c62d8" />
<rect x="1258.9" y="757.0" width="60.0" height="47.0" rx="0" fill="#c98a2e" />
<text x="1288.9" y="928.2" font-size="9" fill="#e8f8f8" text-anchor="middle" >113</text>
<text x="1288.9" y="862.2" font-size="9" fill="#3a1f78" text-anchor="middle" >563</text>
<text x="1288.9" y="783.7" font-size="9" fill="#fff6e0" text-anchor="middle" >241</text>
<text x="1288.9" y="750.0" font-size="9" fill="#555" text-anchor="middle" >917</text>
<text x="1288.9" y="955.0" font-size="9.5" fill="#666" text-anchor="middle" >Q2</text>
<rect x="1351.6" y="913.9" width="60.0" height="22.1" rx="0" fill="#3a939c" />
<rect x="1351.6" y="804.2" width="60.0" height="109.7" rx="0" fill="#8c62d8" />
<rect x="1351.6" y="757.2" width="60.0" height="47.0" rx="0" fill="#c98a2e" />
<text x="1381.6" y="928.2" font-size="9" fill="#e8f8f8" text-anchor="middle" >113</text>
<text x="1381.6" y="862.3" font-size="9" fill="#3a1f78" text-anchor="middle" >562</text>
<text x="1381.6" y="783.9" font-size="9" fill="#fff6e0" text-anchor="middle" >241</text>
<text x="1381.6" y="750.2" font-size="9" fill="#555" text-anchor="middle" >916</text>
<text x="1381.6" y="955.0" font-size="9.5" fill="#666" text-anchor="middle" >Q3</text>
<rect x="1444.3" y="913.9" width="60.0" height="22.1" rx="0" fill="#3a939c" />
<rect x="1444.3" y="804.2" width="60.0" height="109.7" rx="0" fill="#8c62d8" />
<rect x="1444.3" y="757.2" width="60.0" height="47.0" rx="0" fill="#c98a2e" />
<text x="1474.3" y="928.2" font-size="9" fill="#e8f8f8" text-anchor="middle" >113</text>
<text x="1474.3" y="862.3" font-size="9" fill="#3a1f78" text-anchor="middle" >562</text>
<text x="1474.3" y="783.9" font-size="9" fill="#fff6e0" text-anchor="middle" >241</text>
<text x="1474.3" y="750.2" font-size="9" fill="#555" text-anchor="middle" >916</text>
<text x="1474.3" y="955.0" font-size="9.5" fill="#666" text-anchor="middle" >Q4</text>
<rect x="1537.0" y="914.3" width="60.0" height="21.7" rx="0" fill="#3a939c" />
<rect x="1537.0" y="806.0" width="60.0" height="108.3" rx="0" fill="#8c62d8" />
<rect x="1537.0" y="759.3" width="60.0" height="46.7" rx="0" fill="#c98a2e" />
<text x="1567.0" y="928.4" font-size="9" fill="#e8f8f8" text-anchor="middle" >111</text>
<text x="1567.0" y="863.4" font-size="9" fill="#3a1f78" text-anchor="middle" >555</text>
<text x="1567.0" y="785.9" font-size="9" fill="#fff6e0" text-anchor="middle" >239</text>
<text x="1567.0" y="752.3" font-size="9" fill="#555" text-anchor="middle" >905</text>
<text x="1567.0" y="955.0" font-size="9.5" fill="#666" text-anchor="middle" >Q1</text>
<rect x="1629.7" y="915.1" width="60.0" height="20.9" rx="0" fill="#3a939c" />
<rect x="1629.7" y="809.1" width="60.0" height="106.0" rx="0" fill="#8c62d8" />
<rect x="1629.7" y="763.6" width="60.0" height="45.5" rx="0" fill="#c98a2e" />
<text x="1659.7" y="928.8" font-size="9" fill="#e8f8f8" text-anchor="middle" >107</text>
<text x="1659.7" y="865.3" font-size="9" fill="#3a1f78" text-anchor="middle" >543</text>
<text x="1659.7" y="789.6" font-size="9" fill="#fff6e0" text-anchor="middle" >233</text>
<text x="1659.7" y="756.6" font-size="9" fill="#555" text-anchor="middle" >883</text>
<text x="1659.7" y="955.0" font-size="9.5" fill="#666" text-anchor="middle" >Q2</text>
<text x="644.0" y="978.0" font-size="9" fill="#666" text-anchor="middle" >2022</text>
<text x="829.4" y="978.0" font-size="9" fill="#666" text-anchor="middle" >2023</text>
<text x="1200.2" y="978.0" font-size="9" fill="#666" text-anchor="middle" >2024</text>
<text x="1571.0" y="978.0" font-size="9" fill="#666" text-anchor="middle" >2025</text>
<rect x="780.0" y="941.0" width="1.0" height="45.0" rx="0" fill="#e3e3e3" />
<rect x="1150.0" y="941.0" width="1.0" height="45.0" rx="0" fill="#e3e3e3" />
<rect x="1521.0" y="941.0" width="1.0" height="45.0" rx="0" fill="#e3e3e3" />
<rect x="594.0" y="935.0" width="1112.0" height="2.2" rx="0" fill="#7d7d7d" />
<rect x="1032.0" y="1010.0" width="14.0" height="12.0" rx="0" fill="#c98a2e" />
<text x="1051.0" y="1020.0" font-size="10" fill="#62666a" text-anchor="start" textLength="61.0" lengthAdjust="spacingAndGlyphs" >Intermediate</text>
<rect x="1133.0" y="1010.0" width="14.0" height="12.0" rx="0" fill="#8c62d8" />
<text x="1151.0" y="1020.0" font-size="10" fill="#62666a" text-anchor="start" textLength="47.0" lengthAdjust="spacingAndGlyphs" >Proficient</text>
<rect x="1217.0" y="1010.0" width="15.0" height="12.0" rx="0" fill="#3a939c" />
<text x="1237.0" y="1020.0" font-size="10" fill="#62666a" text-anchor="start" textLength="31.0" lengthAdjust="spacingAndGlyphs" >Expert</text>
<text x="1740.0" y="691.0" font-size="11.5" fill="#32363a" font-weight="bold" text-anchor="start" textLength="475.0" lengthAdjust="spacingAndGlyphs" >Employees with this Skill by Current Job Classification and Proficiency Status</text>
<text x="1740.0" y="711.0" font-size="9.5" fill="#929699" text-anchor="start" textLength="172.0" lengthAdjust="spacingAndGlyphs" >As of Jun, 2025 | in # of Employees</text>
<rect x="1893.0" y="723.0" width="297.5" height="17.0" rx="0" fill="#d33a26" />
<rect x="2190.5" y="723.0" width="624.8" height="17.0" rx="0" fill="#3e8ee9" />
<text x="1879.0" y="735.0" font-size="9.5" fill="#62666a" text-anchor="end" textLength="119.6" lengthAdjust="spacingAndGlyphs" >Management &amp; Planning</text>
<text x="2041.8" y="734.7" font-size="9" fill="#ffffff" text-anchor="middle" >70</text>
<text x="2502.9" y="734.7" font-size="9" fill="#1d3f8a" text-anchor="middle" >147</text>
<text x="2823.2" y="734.7" font-size="9" fill="#555" text-anchor="start" >217</text>
<rect x="1893.0" y="749.5" width="289.0" height="17.0" rx="0" fill="#d33a26" />
<rect x="2182.0" y="749.5" width="510.0" height="17.0" rx="0" fill="#3e8ee9" />
<text x="1879.0" y="761.5" font-size="9.5" fill="#62666a" text-anchor="end" textLength="114.2" lengthAdjust="spacingAndGlyphs" >Executive Management</text>
<text x="2037.5" y="761.2" font-size="9" fill="#ffffff" text-anchor="middle" >68</text>
<text x="2437.0" y="761.2" font-size="9" fill="#1d3f8a" text-anchor="middle" >120</text>
<text x="2700.0" y="761.2" font-size="9" fill="#555" text-anchor="start" >188</text>
<rect x="1893.0" y="776.1" width="250.8" height="17.0" rx="0" fill="#d33a26" />
<rect x="2143.8" y="776.1" width="425.0" height="17.0" rx="0" fill="#3e8ee9" />
<text x="1879.0" y="788.1" font-size="9.5" fill="#62666a" text-anchor="end" textLength="78.9" lengthAdjust="spacingAndGlyphs" >HR Professional</text>
<text x="2018.4" y="787.8" font-size="9" fill="#ffffff" text-anchor="middle" >59</text>
<text x="2356.2" y="787.8" font-size="9" fill="#1d3f8a" text-anchor="middle" >100</text>
<text x="2576.8" y="787.8" font-size="9" fill="#555" text-anchor="start" >159</text>
<rect x="1893.0" y="802.6" width="106.2" height="17.0" rx="0" fill="#d33a26" />
<rect x="1999.2" y="802.6" width="174.2" height="17.0" rx="0" fill="#3e8ee9" />
<text x="1879.0" y="814.6" font-size="9.5" fill="#62666a" text-anchor="end" textLength="58.3" lengthAdjust="spacingAndGlyphs" >Engineering</text>
<text x="1946.1" y="814.4" font-size="9" fill="#ffffff" text-anchor="middle" >25</text>
<text x="2086.4" y="814.4" font-size="9" fill="#1d3f8a" text-anchor="middle" >41</text>
<text x="2181.5" y="814.4" font-size="9" fill="#555" text-anchor="start" >66</text>
<rect x="1893.0" y="829.2" width="102.0" height="17.0" rx="0" fill="#d33a26" />
<rect x="1995.0" y="829.2" width="174.2" height="17.0" rx="0" fill="#3e8ee9" />
<text x="1879.0" y="841.2" font-size="9.5" fill="#62666a" text-anchor="end" textLength="60.1" lengthAdjust="spacingAndGlyphs" >Professional</text>
<text x="1944.0" y="840.9" font-size="9" fill="#ffffff" text-anchor="middle" >24</text>
<text x="2082.1" y="840.9" font-size="9" fill="#1d3f8a" text-anchor="middle" >41</text>
<text x="2177.2" y="840.9" font-size="9" fill="#555" text-anchor="start" >65</text>
<rect x="1893.0" y="855.8" width="93.5" height="17.0" rx="0" fill="#d33a26" />
<rect x="1986.5" y="855.8" width="144.5" height="17.0" rx="0" fill="#3e8ee9" />
<text x="1879.0" y="867.8" font-size="9.5" fill="#62666a" text-anchor="end" textLength="67.2" lengthAdjust="spacingAndGlyphs" >Craft Workers</text>
<text x="1939.8" y="867.5" font-size="9" fill="#ffffff" text-anchor="middle" >22</text>
<text x="2058.8" y="867.5" font-size="9" fill="#1d3f8a" text-anchor="middle" >34</text>
<text x="2139.0" y="867.5" font-size="9" fill="#555" text-anchor="start" >56</text>
<rect x="1893.0" y="882.3" width="42.5" height="17.0" rx="0" fill="#d33a26" />
<rect x="1935.5" y="882.3" width="114.8" height="17.0" rx="0" fill="#3e8ee9" />
<text x="1879.0" y="894.3" font-size="9.5" fill="#62666a" text-anchor="end" textLength="109.9" lengthAdjust="spacingAndGlyphs" >Administrative Support</text>
<text x="1914.2" y="894.0" font-size="9" fill="#ffffff" text-anchor="middle" >10</text>
<text x="1992.9" y="894.0" font-size="9" fill="#1d3f8a" text-anchor="middle" >27</text>
<text x="2058.2" y="894.0" font-size="9" fill="#555" text-anchor="start" >37</text>
<rect x="1893.0" y="908.9" width="25.5" height="17.0" rx="0" fill="#d33a26" />
<rect x="1918.5" y="908.9" width="127.5" height="17.0" rx="0" fill="#3e8ee9" />
<text x="1879.0" y="920.9" font-size="9.5" fill="#62666a" text-anchor="end" textLength="88.7" lengthAdjust="spacingAndGlyphs" >Executive Support</text>
<text x="1905.8" y="920.6" font-size="9" fill="#ffffff" text-anchor="middle" >6</text>
<text x="1982.2" y="920.6" font-size="9" fill="#1d3f8a" text-anchor="middle" >30</text>
<text x="2054.0" y="920.6" font-size="9" fill="#555" text-anchor="start" >36</text>
<rect x="1893.0" y="935.4" width="46.8" height="17.0" rx="0" fill="#d33a26" />
<rect x="1939.8" y="935.4" width="89.2" height="17.0" rx="0" fill="#3e8ee9" />
<text x="1879.0" y="947.4" font-size="9.5" fill="#62666a" text-anchor="end" textLength="90.5" lengthAdjust="spacingAndGlyphs" >Consulting/Analyst</text>
<text x="1916.4" y="947.1" font-size="9" fill="#ffffff" text-anchor="middle" >11</text>
<text x="1984.4" y="947.1" font-size="9" fill="#1d3f8a" text-anchor="middle" >21</text>
<text x="2037.0" y="947.1" font-size="9" fill="#555" text-anchor="start" >32</text>
<rect x="1893.0" y="962.0" width="12.8" height="17.0" rx="0" fill="#d33a26" />
<rect x="1905.8" y="962.0" width="72.2" height="17.0" rx="0" fill="#3e8ee9" />
<text x="1879.0" y="974.0" font-size="9.5" fill="#62666a" text-anchor="end" textLength="42.5" lengthAdjust="spacingAndGlyphs" >Planning</text>
<text x="1899.4" y="973.7" font-size="9" fill="#ffffff" text-anchor="middle" >3</text>
<text x="1941.9" y="973.7" font-size="9" fill="#1d3f8a" text-anchor="middle" >17</text>
<text x="1986.0" y="973.7" font-size="9" fill="#555" text-anchor="start" >20</text>
<rect x="1892.0" y="718.0" width="1.6" height="265.0" rx="0" fill="#7d7d7d" />
<rect x="2243.0" y="1010.0" width="14.0" height="12.0" rx="0" fill="#d33a26" />
<text x="2261.0" y="1020.0" font-size="10" fill="#62666a" text-anchor="start" textLength="30.0" lengthAdjust="spacingAndGlyphs" >Below</text>
<rect x="2312.0" y="1010.0" width="14.0" height="12.0" rx="0" fill="#3e8ee9" />
<text x="2331.0" y="1020.0" font-size="10" fill="#62666a" text-anchor="start" textLength="29.0" lengthAdjust="spacingAndGlyphs" >At par</text>
<rect x="563" y="1076" width="2325" height="395.5" rx="12" fill="#e2e4e2"/>
<rect x="564" y="1076" width="2323" height="394" rx="12" fill="#ffffff"/>
<text x="586.0" y="1102.0" font-size="13.5" fill="#32363a" font-weight="bold" text-anchor="start" textLength="214.0" lengthAdjust="spacingAndGlyphs" >Proficiency Level Composition</text>
<rect x="564.0" y="1119.0" width="2323.0" height="1.2" rx="0" fill="#e5e7e8" />
<text x="587.0" y="1155.0" font-size="11.5" fill="#32363a" font-weight="bold" text-anchor="start" textLength="129.0" lengthAdjust="spacingAndGlyphs" >By Job Classification</text>
<text x="587.0" y="1175.0" font-size="9.5" fill="#929699" text-anchor="start" textLength="172.0" lengthAdjust="spacingAndGlyphs" >As of Jun, 2025 | in # of Employees</text>
<rect x="740.0" y="1186.0" width="173.6" height="15.0" rx="0" fill="#c98a2e" />
<text x="826.8" y="1197.0" font-size="9" fill="#fff3d8" text-anchor="middle" >70</text>
<rect x="913.6" y="1186.0" width="364.6" height="15.0" rx="0" fill="#8c62d8" />
<text x="1095.9" y="1197.0" font-size="9" fill="#3a1f78" text-anchor="middle" >147</text>
<text x="726.0" y="1197.0" font-size="9" fill="#62666a" text-anchor="end" textLength="118.3" lengthAdjust="spacingAndGlyphs" >Management &amp; Planning</text>
<text x="1286.2" y="1197.0" font-size="9" fill="#555" text-anchor="start" >217</text>
<rect x="740.0" y="1211.8" width="168.6" height="15.0" rx="0" fill="#c98a2e" />
<text x="824.3" y="1222.8" font-size="9" fill="#fff3d8" text-anchor="middle" >68</text>
<rect x="908.6" y="1211.8" width="297.6" height="15.0" rx="0" fill="#8c62d8" />
<text x="1057.4" y="1222.8" font-size="9" fill="#3a1f78" text-anchor="middle" >120</text>
<text x="726.0" y="1222.8" font-size="9" fill="#62666a" text-anchor="end" textLength="112.9" lengthAdjust="spacingAndGlyphs" >Executive Management</text>
<text x="1214.2" y="1222.8" font-size="9" fill="#555" text-anchor="start" >188</text>
<rect x="740.0" y="1237.6" width="248.0" height="15.0" rx="0" fill="#3a939c" />
<text x="864.0" y="1248.6" font-size="9" fill="#e8f8f8" text-anchor="middle" >100</text>
<rect x="988.0" y="1237.6" width="146.3" height="15.0" rx="0" fill="#8c62d8" />
<text x="1061.2" y="1248.6" font-size="9" fill="#3a1f78" text-anchor="middle" >59</text>
<text x="726.0" y="1248.6" font-size="9" fill="#62666a" text-anchor="end" textLength="78.0" lengthAdjust="spacingAndGlyphs" >HR Professional</text>
<text x="1142.3" y="1248.6" font-size="9" fill="#555" text-anchor="start" >159</text>
<rect x="740.0" y="1263.4" width="62.0" height="15.0" rx="0" fill="#c98a2e" />
<text x="771.0" y="1274.4" font-size="9" fill="#fff3d8" text-anchor="middle" >25</text>
<rect x="802.0" y="1263.4" width="101.7" height="15.0" rx="0" fill="#8c62d8" />
<text x="852.8" y="1274.4" font-size="9" fill="#3a1f78" text-anchor="middle" >41</text>
<text x="726.0" y="1274.4" font-size="9" fill="#62666a" text-anchor="end" textLength="57.6" lengthAdjust="spacingAndGlyphs" >Engineering</text>
<text x="911.7" y="1274.4" font-size="9" fill="#555" text-anchor="start" >66</text>
<rect x="740.0" y="1289.2" width="54.6" height="15.0" rx="0" fill="#c98a2e" />
<text x="767.3" y="1300.2" font-size="9" fill="#fff3d8" text-anchor="middle" >22</text>
<rect x="794.6" y="1289.2" width="106.6" height="15.0" rx="0" fill="#8c62d8" />
<text x="847.9" y="1300.2" font-size="9" fill="#3a1f78" text-anchor="middle" >43</text>
<text x="726.0" y="1300.2" font-size="9" fill="#62666a" text-anchor="end" textLength="59.4" lengthAdjust="spacingAndGlyphs" >Professional</text>
<text x="909.2" y="1300.2" font-size="9" fill="#555" text-anchor="start" >65</text>
<rect x="740.0" y="1315.0" width="52.1" height="15.0" rx="0" fill="#c98a2e" />
<text x="766.0" y="1326.0" font-size="9" fill="#fff3d8" text-anchor="middle" >21</text>
<rect x="792.1" y="1315.0" width="84.3" height="15.0" rx="0" fill="#8c62d8" />
<text x="834.2" y="1326.0" font-size="9" fill="#3a1f78" text-anchor="middle" >34</text>
<text x="726.0" y="1326.0" font-size="9" fill="#62666a" text-anchor="end" textLength="66.4" lengthAdjust="spacingAndGlyphs" >Craft Workers</text>
<text x="884.4" y="1326.0" font-size="9" fill="#555" text-anchor="start" >56</text>
<rect x="740.0" y="1340.8" width="22.3" height="15.0" rx="0" fill="#c98a2e" />
<text x="751.2" y="1351.8" font-size="9" fill="#fff3d8" text-anchor="middle" >9</text>
<rect x="762.3" y="1340.8" width="69.4" height="15.0" rx="0" fill="#8c62d8" />
<text x="797.0" y="1351.8" font-size="9" fill="#3a1f78" text-anchor="middle" >28</text>
<text x="726.0" y="1351.8" font-size="9" fill="#62666a" text-anchor="end" textLength="108.6" lengthAdjust="spacingAndGlyphs" >Administrative Support</text>
<text x="839.8" y="1351.8" font-size="9" fill="#555" text-anchor="start" >37</text>
<rect x="740.0" y="1366.6" width="14.9" height="15.0" rx="0" fill="#c98a2e" />
<text x="747.4" y="1377.6" font-size="9" fill="#fff3d8" text-anchor="middle" >6</text>
<rect x="754.9" y="1366.6" width="74.4" height="15.0" rx="0" fill="#8c62d8" />
<text x="792.1" y="1377.6" font-size="9" fill="#3a1f78" text-anchor="middle" >30</text>
<text x="726.0" y="1377.6" font-size="9" fill="#62666a" text-anchor="end" textLength="87.6" lengthAdjust="spacingAndGlyphs" >Executive Support</text>
<text x="837.3" y="1377.6" font-size="9" fill="#555" text-anchor="start" >36</text>
<rect x="740.0" y="1392.4" width="27.3" height="15.0" rx="0" fill="#c98a2e" />
<text x="753.6" y="1403.4" font-size="9" fill="#fff3d8" text-anchor="middle" >11</text>
<rect x="767.3" y="1392.4" width="52.1" height="15.0" rx="0" fill="#8c62d8" />
<text x="793.3" y="1403.4" font-size="9" fill="#3a1f78" text-anchor="middle" >21</text>
<text x="726.0" y="1403.4" font-size="9" fill="#62666a" text-anchor="end" textLength="89.4" lengthAdjust="spacingAndGlyphs" >Consulting/Analyst</text>
<text x="827.4" y="1403.4" font-size="9" fill="#555" text-anchor="start" >32</text>
<rect x="740.0" y="1418.2" width="5.0" height="15.0" rx="0" fill="#c98a2e" />
<rect x="745.0" y="1418.2" width="44.6" height="15.0" rx="0" fill="#8c62d8" />
<text x="767.3" y="1429.2" font-size="9" fill="#3a1f78" text-anchor="middle" >18</text>
<text x="726.0" y="1429.2" font-size="9" fill="#62666a" text-anchor="end" textLength="42.0" lengthAdjust="spacingAndGlyphs" >Planning</text>
<text x="797.6" y="1429.2" font-size="9" fill="#555" text-anchor="start" >20</text>
<rect x="739.0" y="1181.0" width="1.6" height="258.0" rx="0" fill="#7d7d7d" />
<text x="1349.0" y="1155.0" font-size="11.5" fill="#32363a" font-weight="bold" text-anchor="start" textLength="73.0" lengthAdjust="spacingAndGlyphs" >By Location</text>
<text x="1349.0" y="1175.0" font-size="9.5" fill="#929699" text-anchor="start" textLength="172.0" lengthAdjust="spacingAndGlyphs" >As of Jun, 2025 | in # of Employees</text>
<rect x="1496.0" y="1184.0" width="90.0" height="10.5" rx="0" fill="#3a939c" />
<rect x="1586.0" y="1184.0" width="116.0" height="10.5" rx="0" fill="#c98a2e" />
<rect x="1702.0" y="1184.0" width="331.0" height="10.5" rx="0" fill="#8c62d8" />
<text x="1482.0" y="1192.5" font-size="9.5" fill="#62666a" text-anchor="end" textLength="65.6" lengthAdjust="spacingAndGlyphs" >United States</text>
<text x="2041.0" y="1193.0" font-size="8" fill="#555" text-anchor="start" >138</text>
<rect x="1496.0" y="1200.2" width="23.0" height="10.5" rx="0" fill="#3a939c" />
<rect x="1519.0" y="1200.2" width="59.0" height="10.5" rx="0" fill="#c98a2e" />
<rect x="1578.0" y="1200.2" width="221.0" height="10.5" rx="0" fill="#8c62d8" />
<text x="1482.0" y="1208.7" font-size="9.5" fill="#62666a" text-anchor="end" textLength="44.9" lengthAdjust="spacingAndGlyphs" >Germany</text>
<text x="1807.0" y="1209.2" font-size="8" fill="#555" text-anchor="start" >78</text>
<rect x="1496.0" y="1216.4" width="39.0" height="10.5" rx="0" fill="#3a939c" />
<rect x="1535.0" y="1216.4" width="83.0" height="10.5" rx="0" fill="#c98a2e" />
<rect x="1618.0" y="1216.4" width="166.0" height="10.5" rx="0" fill="#8c62d8" />
<text x="1482.0" y="1224.9" font-size="9.5" fill="#62666a" text-anchor="end" textLength="28.5" lengthAdjust="spacingAndGlyphs" >China</text>
<text x="1792.0" y="1225.4" font-size="8" fill="#555" text-anchor="start" >74</text>
<rect x="1496.0" y="1232.6" width="31.0" height="10.5" rx="0" fill="#3a939c" />
<rect x="1527.0" y="1232.6" width="79.0" height="10.5" rx="0" fill="#c98a2e" />
<rect x="1606.0" y="1232.6" width="154.0" height="10.5" rx="0" fill="#8c62d8" />
<text x="1482.0" y="1241.1" font-size="9.5" fill="#62666a" text-anchor="end" textLength="42.5" lengthAdjust="spacingAndGlyphs" >Australia</text>
<text x="1768.0" y="1241.6" font-size="8" fill="#555" text-anchor="start" >68</text>
<rect x="1496.0" y="1248.8" width="39.0" height="10.5" rx="0" fill="#3a939c" />
<rect x="1535.0" y="1248.8" width="54.0" height="10.5" rx="0" fill="#c98a2e" />
<rect x="1589.0" y="1248.8" width="136.0" height="10.5" rx="0" fill="#8c62d8" />
<text x="1482.0" y="1257.3" font-size="9.5" fill="#62666a" text-anchor="end" textLength="27.3" lengthAdjust="spacingAndGlyphs" >Brazil</text>
<text x="1733.0" y="1257.8" font-size="8" fill="#555" text-anchor="start" >59</text>
<rect x="1496.0" y="1265.0" width="43.0" height="10.5" rx="0" fill="#3a939c" />
<rect x="1539.0" y="1265.0" width="57.0" height="10.5" rx="0" fill="#c98a2e" />
<rect x="1596.0" y="1265.0" width="129.0" height="10.5" rx="0" fill="#8c62d8" />
<text x="1482.0" y="1273.5" font-size="9.5" fill="#62666a" text-anchor="end" textLength="34.0" lengthAdjust="spacingAndGlyphs" >France</text>
<text x="1733.0" y="1274.0" font-size="8" fill="#555" text-anchor="start" >59</text>
<rect x="1496.0" y="1281.2" width="31.0" height="10.5" rx="0" fill="#3a939c" />
<rect x="1527.0" y="1281.2" width="59.0" height="10.5" rx="0" fill="#c98a2e" />
<rect x="1586.0" y="1281.2" width="139.0" height="10.5" rx="0" fill="#8c62d8" />
<text x="1482.0" y="1289.7" font-size="9.5" fill="#62666a" text-anchor="end" textLength="77.7" lengthAdjust="spacingAndGlyphs" >United Kingdom</text>
<text x="1733.0" y="1290.2" font-size="8" fill="#555" text-anchor="start" >58</text>
<rect x="1496.0" y="1297.4" width="16.0" height="10.5" rx="0" fill="#3a939c" />
<rect x="1512.0" y="1297.4" width="35.0" height="10.5" rx="0" fill="#c98a2e" />
<rect x="1547.0" y="1297.4" width="81.0" height="10.5" rx="0" fill="#8c62d8" />
<text x="1482.0" y="1305.9" font-size="9.5" fill="#62666a" text-anchor="end" textLength="33.4" lengthAdjust="spacingAndGlyphs" >Russia</text>
<text x="1636.0" y="1306.4" font-size="8" fill="#555" text-anchor="start" >34</text>
<rect x="1496.0" y="1313.6" width="3.0" height="10.5" rx="0" fill="#3a939c" />
<rect x="1499.0" y="1313.6" width="51.0" height="10.5" rx="0" fill="#c98a2e" />
<rect x="1550.0" y="1313.6" width="62.0" height="10.5" rx="0" fill="#8c62d8" />
<text x="1482.0" y="1322.1" font-size="9.5" fill="#62666a" text-anchor="end" textLength="58.9" lengthAdjust="spacingAndGlyphs" >South Africa</text>
<text x="1620.0" y="1322.6" font-size="8" fill="#555" text-anchor="start" >30</text>
<rect x="1496.0" y="1329.8" width="1.0" height="10.5" rx="0" fill="#3a939c" />
<rect x="1497.0" y="1329.8" width="30.0" height="10.5" rx="0" fill="#c98a2e" />
<rect x="1527.0" y="1329.8" width="77.0" height="10.5" rx="0" fill="#8c62d8" />
<text x="1482.0" y="1338.3" font-size="9.5" fill="#62666a" text-anchor="end" textLength="37.6" lengthAdjust="spacingAndGlyphs" >Ukraine</text>
<text x="1612.0" y="1338.8" font-size="8" fill="#555" text-anchor="start" >26</text>
<rect x="1496.0" y="1346.0" width="1.0" height="10.5" rx="0" fill="#3a939c" />
<rect x="1497.0" y="1346.0" width="30.0" height="10.5" rx="0" fill="#c98a2e" />
<rect x="1527.0" y="1346.0" width="59.0" height="10.5" rx="0" fill="#8c62d8" />
<text x="1482.0" y="1354.5" font-size="9.5" fill="#62666a" text-anchor="end" textLength="29.8" lengthAdjust="spacingAndGlyphs" >Japan</text>
<text x="1594.0" y="1355.0" font-size="8" fill="#555" text-anchor="start" >23</text>
<rect x="1496.0" y="1362.2" width="1.0" height="10.5" rx="0" fill="#3a939c" />
<rect x="1497.0" y="1362.2" width="25.0" height="10.5" rx="0" fill="#c98a2e" />
<rect x="1522.0" y="1362.2" width="64.0" height="10.5" rx="0" fill="#8c62d8" />
<text x="1482.0" y="1370.7" font-size="9.5" fill="#62666a" text-anchor="end" textLength="49.8" lengthAdjust="spacingAndGlyphs" >Singapore</text>
<text x="1594.0" y="1371.2" font-size="8" fill="#555" text-anchor="start" >23</text>
<rect x="1496.0" y="1378.4" width="1.0" height="10.5" rx="0" fill="#3a939c" />
<rect x="1497.0" y="1378.4" width="15.0" height="10.5" rx="0" fill="#c98a2e" />
<rect x="1512.0" y="1378.4" width="34.0" height="10.5" rx="0" fill="#8c62d8" />
<text x="1482.0" y="1386.9" font-size="9.5" fill="#62666a" text-anchor="end" textLength="46.8" lengthAdjust="spacingAndGlyphs" >Argentina</text>
<text x="1554.0" y="1387.4" font-size="8" fill="#555" text-anchor="start" >13</text>
<rect x="1496.0" y="1394.6" width="1.0" height="10.5" rx="0" fill="#3a939c" />
<rect x="1497.0" y="1394.6" width="17.0" height="10.5" rx="0" fill="#c98a2e" />
<rect x="1514.0" y="1394.6" width="32.0" height="10.5" rx="0" fill="#8c62d8" />
<text x="1482.0" y="1403.1" font-size="9.5" fill="#62666a" text-anchor="end" textLength="23.7" lengthAdjust="spacingAndGlyphs" >India</text>
<rect x="1496.0" y="1410.8" width="15.0" height="10.5" rx="0" fill="#3a939c" />
<rect x="1511.0" y="1410.8" width="7.0" height="10.5" rx="0" fill="#c98a2e" />
<rect x="1518.0" y="1410.8" width="24.0" height="10.5" rx="0" fill="#8c62d8" />
<text x="1482.0" y="1419.3" font-size="9.5" fill="#62666a" text-anchor="end" textLength="54.7" lengthAdjust="spacingAndGlyphs" >Hong Kong</text>
<rect x="1496.0" y="1427.0" width="7.0" height="10.5" rx="0" fill="#3a939c" />
<rect x="1503.0" y="1427.0" width="8.0" height="10.5" rx="0" fill="#c98a2e" />
<rect x="1511.0" y="1427.0" width="27.0" height="10.5" rx="0" fill="#8c62d8" />
<text x="1482.0" y="1435.5" font-size="9.5" fill="#62666a" text-anchor="end" textLength="38.3" lengthAdjust="spacingAndGlyphs" >Canada</text>
<rect x="1495.0" y="1182.0" width="1.6" height="256.0" rx="0" fill="#7d7d7d" />
<text x="2106.0" y="1155.0" font-size="11.5" fill="#32363a" font-weight="bold" text-anchor="start" textLength="97.0" lengthAdjust="spacingAndGlyphs" >By Organisation</text>
<text x="2106.0" y="1175.0" font-size="9.5" fill="#929699" text-anchor="start" textLength="172.0" lengthAdjust="spacingAndGlyphs" >As of Jun, 2025 | in # of Employees</text>
<rect x="2261.0" y="1189.0" width="10.5" height="34.0" rx="0" fill="#3a939c" />
<text x="2266.2" y="1209.5" font-size="9.5" fill="#e8f8f8" text-anchor="middle" >9</text>
<rect x="2271.5" y="1189.0" width="168.6" height="34.0" rx="0" fill="#c98a2e" />
<text x="2355.8" y="1209.5" font-size="9.5" fill="#fff3d8" text-anchor="middle" >145</text>
<rect x="2440.1" y="1189.0" width="355.9" height="34.0" rx="0" fill="#8c62d8" />
<text x="2618.0" y="1209.5" font-size="9.5" fill="#3a1f78" text-anchor="middle" >306</text>
<text x="2248.0" y="1210.0" font-size="9.5" fill="#62666a" text-anchor="end" textLength="69.8" lengthAdjust="spacingAndGlyphs" >Manufacturing</text>
<text x="2806.0" y="1210.0" font-size="9.5" fill="#555" text-anchor="start" >460</text>
<rect x="2261.0" y="1240.8" width="81.4" height="34.0" rx="0" fill="#3a939c" />
<text x="2301.7" y="1261.3" font-size="9.5" fill="#e8f8f8" text-anchor="middle" >70</text>
<rect x="2342.4" y="1240.8" width="37.2" height="34.0" rx="0" fill="#c98a2e" />
<text x="2361.0" y="1261.3" font-size="9.5" fill="#fff3d8" text-anchor="middle" >32</text>
<rect x="2379.6" y="1240.8" width="127.9" height="34.0" rx="0" fill="#8c62d8" />
<text x="2443.6" y="1261.3" font-size="9.5" fill="#3a1f78" text-anchor="middle" >110</text>
<text x="2248.0" y="1261.8" font-size="9.5" fill="#62666a" text-anchor="end" textLength="94.3" lengthAdjust="spacingAndGlyphs" >Corporate Services</text>
<text x="2517.6" y="1261.8" font-size="9.5" fill="#555" text-anchor="start" >212</text>
<rect x="2261.0" y="1292.6" width="14.0" height="34.0" rx="0" fill="#3a939c" />
<text x="2268.0" y="1313.1" font-size="9.5" fill="#e8f8f8" text-anchor="middle" >12</text>
<rect x="2275.0" y="1292.6" width="15.1" height="34.0" rx="0" fill="#c98a2e" />
<text x="2282.5" y="1313.1" font-size="9.5" fill="#fff3d8" text-anchor="middle" >13</text>
<rect x="2290.1" y="1292.6" width="57.0" height="34.0" rx="0" fill="#8c62d8" />
<text x="2318.6" y="1313.1" font-size="9.5" fill="#3a1f78" text-anchor="middle" >49</text>
<text x="2248.0" y="1313.6" font-size="9.5" fill="#62666a" text-anchor="end" textLength="79.4" lengthAdjust="spacingAndGlyphs" >Executive Office</text>
<text x="2357.1" y="1313.6" font-size="9.5" fill="#555" text-anchor="start" >74</text>
<rect x="2261.0" y="1344.4" width="14.0" height="34.0" rx="0" fill="#c98a2e" />
<text x="2268.0" y="1364.9" font-size="9.5" fill="#fff3d8" text-anchor="middle" >12</text>
<rect x="2275.0" y="1344.4" width="20.9" height="34.0" rx="0" fill="#8c62d8" />
<text x="2285.4" y="1364.9" font-size="9.5" fill="#3a1f78" text-anchor="middle" >18</text>
<text x="2248.0" y="1365.4" font-size="9.5" fill="#62666a" text-anchor="end" textLength="59.4" lengthAdjust="spacingAndGlyphs" >Direct Sales</text>
<text x="2305.9" y="1365.4" font-size="9.5" fill="#555" text-anchor="start" >30</text>
<rect x="2261.0" y="1396.2" width="7.0" height="34.0" rx="0" fill="#c98a2e" />
<text x="2264.5" y="1416.7" font-size="9.5" fill="#fff3d8" text-anchor="middle" >6</text>
<rect x="2268.0" y="1396.2" width="5.8" height="34.0" rx="0" fill="#8c62d8" />
<text x="2248.0" y="1417.2" font-size="9.5" fill="#62666a" text-anchor="end" textLength="113.7" lengthAdjust="spacingAndGlyphs" >Information Technology</text>
<text x="2283.8" y="1417.2" font-size="9.5" fill="#555" text-anchor="start" >11</text>
<rect x="2260.0" y="1181.0" width="1.6" height="256.0" rx="0" fill="#7d7d7d" />
<rect x="1549" y="1391" width="366" height="48" rx="4" fill="#000" opacity="0.06"/>
<rect x="1550.0" y="1392.0" width="364.0" height="46.0" rx="4" fill="#ffffff" />
<path d="M1563 1408 L1563 1422 M1567 1408 L1567 1422" stroke="#c8c8c8" stroke-width="1.5"/>
<text x="1575.0" y="1419.0" font-size="11" fill="#3c3c3c" text-anchor="start" textLength="189.0" lengthAdjust="spacingAndGlyphs" >streamyard.com is sharing your screen.</text>
<rect x="1775.0" y="1397.0" width="98.0" height="34.0" rx="17" fill="#1b5fd1" />
<text x="1824.0" y="1418.0" font-size="11.5" fill="#ffffff" font-weight="bold" text-anchor="middle" textLength="71.0" lengthAdjust="spacingAndGlyphs" >Stop sharing</text>
<text x="1883.0" y="1419.0" font-size="11" fill="#3a6fd0" text-anchor="start" textLength="23.0" lengthAdjust="spacingAndGlyphs" text-decoration="underline">Hide</text>
<rect x="549.0" y="1445.0" width="2367.0" height="44.0" rx="0" fill="#eef0ee" />
<rect x="549.0" y="1445.0" width="2367.0" height="1.0" rx="0" fill="#dcdedc" />
<rect x="1455.0" y="1456.0" width="11.0" height="11.0" rx="0" fill="#2f7fd6" />
<rect x="1467.0" y="1456.0" width="11.0" height="11.0" rx="0" fill="#2f7fd6" />
<rect x="1455.0" y="1468.0" width="11.0" height="11.0" rx="0" fill="#2f7fd6" />
<rect x="1467.0" y="1468.0" width="11.0" height="11.0" rx="0" fill="#2f7fd6" />
<rect x="1493.0" y="1455.0" width="195.0" height="25.0" rx="12" fill="#f8f9f8" />
<circle cx="1506" cy="1466" r="5" fill="none" stroke="#222" stroke-width="1.8"/><path d="M1510 1470 L1514 1474" stroke="#222" stroke-width="2"/>
<text x="1524.0" y="1472.0" font-size="12" fill="#6a6a6a" text-anchor="start" textLength="38.0" lengthAdjust="spacingAndGlyphs" >Search</text>
<rect x="1697.0" y="1449.0" width="35.0" height="36.0" rx="4" fill="#f1d8d2" />
<rect x="1700" y="1458" width="18" height="18" rx="3" fill="#1a62c0"/><rect x="1710" y="1452" width="16" height="14" rx="3" fill="#3b8fe8"/><text x="1704" y="1472" font-size="11" fill="#fff" font-weight="bold">O</text>
<rect x="1707.0" y="1486.0" width="8.0" height="2.0" rx="0" fill="#c03a2b" />
<path d="M1744 1458 L1754 1458 L1757 1461 L1767 1461 L1767 1477 L1744 1477 Z" fill="#f1c14b"/><rect x="1744" y="1468" width="23" height="9" fill="#e0a82a"/>
<circle cx="1796" cy="1467" r="11" fill="#e04a3a"/><path d="M1796 1467 L1807 1462 A11 11 0 0 1 1790 1477 Z" fill="#2fa653"/><path d="M1796 1467 L1790 1477 A11 11 0 0 1 1786 1460 Z" fill="#f3c02f"/><circle cx="1796" cy="1467" r="5" fill="#2a77d8" stroke="#fff" stroke-width="2"/>
<rect x="1788.0" y="1486.0" width="16.0" height="2.0" rx="0" fill="#2a6ac8" />
<circle cx="1839" cy="1467" r="11" fill="#d3502b"/><rect x="1827" y="1461" width="11" height="12" rx="1" fill="#b7401f"/><text x="1829" y="1471" font-size="9" fill="#fff" font-weight="bold">P</text>
<rect x="1835.0" y="1486.0" width="6.0" height="2.0" rx="0" fill="#666" />
<rect x="1869" y="1459" width="16" height="16" rx="2" fill="#5b5fc7"/><circle cx="1888" cy="1461" r="4" fill="#7b80d8"/><rect x="1883" y="1464" width="9" height="11" rx="3" fill="#7b80d8"/>
<rect x="1908" y="1457" width="22" height="20" rx="2" fill="#3a7ad8"/><rect x="1904" y="1461" width="13" height="13" rx="1" fill="#1b4a96"/><text x="1905.5" y="1471.5" font-size="9" fill="#fff" font-weight="bold">W</text>
<path d="M1952 1458 L1962 1458 L1962 1468 M1958 1462 L1970 1474 M1962 1468 L1972 1468" stroke="#d84a4a" stroke-width="2" fill="none"/><circle cx="1967" cy="1470" r="3" fill="#3a86d8"/>
<rect x="1992" y="1455" width="16" height="24" rx="1" fill="#3a8ee0"/><path d="M1995 1460 L2005 1460 M1995 1464 L2005 1464 M1995 1468 L2005 1468 M1995 1472 L2005 1472" stroke="#cfe4f8" stroke-width="1.2"/>
<path d="M2688 1470 L2693 1465 L2698 1470" stroke="#333" stroke-width="1.5" fill="none"/>
<path d="M2713 1472 Q2712 1464 2720 1464 Q2724 1459 2729 1464 Q2733 1466 2732 1472 Z" fill="#2a72d0"/>
<path d="M2745 1465 Q2752 1459 2759 1465 L2752 1473 Z" fill="none" stroke="#444" stroke-width="1.3"/>
<path d="M2767 1465 L2770 1465 L2774 1461 L2774 1473 L2770 1469 L2767 1469 Z" fill="none" stroke="#444" stroke-width="1.2"/><path d="M2777 1465 L2780 1469 M2780 1465 L2777 1469" stroke="#444" stroke-width="1"/>
<rect x="2789" y="1462" width="14" height="10" rx="2" fill="#222"/><rect x="2791" y="1464" width="10" height="6" fill="#ddd"/>
<text x="2877.0" y="1463.0" font-size="10" fill="#222" text-anchor="end" textLength="26.0" lengthAdjust="spacingAndGlyphs" >16:39</text>
<text x="2877.0" y="1477.0" font-size="10" fill="#222" text-anchor="end" textLength="56.0" lengthAdjust="spacingAndGlyphs" >18/06/2025</text>
<path d="M2887 1462 L2897 1462 L2897 1474 L2887 1474 Z" fill="none" stroke="#555" stroke-width="1.2"/>
<path d="M2906 927 L2906 944 L2910 940 L2913 947 L2915 946 L2912 939 L2917 939 Z" fill="#ffffff" stroke="#222" stroke-width="1"/>
</svg>
</body></html>
